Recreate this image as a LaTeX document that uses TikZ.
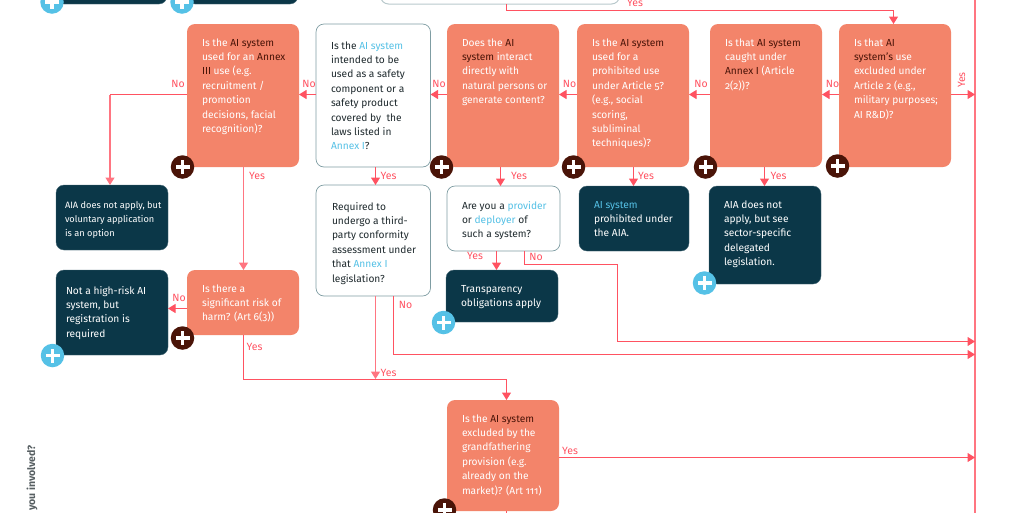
\documentclass[tikz,border=0pt]{standalone}
\usepackage{fontspec}
\setmainfont[Numbers=OldStyle]{Fira Sans}
\usetikzlibrary{arrows.meta,calc}
\definecolor{qor}{HTML}{F3846A}
\definecolor{qdk}{HTML}{0B3748}
\definecolor{qbr}{HTML}{4A1408}
\definecolor{qbl}{HTML}{55C1E6}
\definecolor{qrd}{HTML}{FF5261}
\definecolor{qgr}{HTML}{7F9DA3}
\definecolor{qtx}{HTML}{1F2A2E}
\tikzset{
 x=1pt,y=-1pt,
 base/.style={rectangle,rounded corners=8pt,inner sep=0pt,outer sep=0pt,anchor=north west,align=left},
 orangebox/.style={base,fill=qor,text=white},
 darkbox/.style={base,fill=qdk,draw=qdk!75!white,line width=.4pt,text=white},
 whitebox/.style={base,fill=white,draw=qgr,line width=.7pt,text=qtx},
 conn/.style={draw=qrd,line width=1pt},
 arr/.style={conn,-{Triangle[length=7.5pt,width=9pt]}},
 fade/.style={conn,line width=1.4pt,draw=qrd!80!white},
 yn/.style={text=qrd,font=\fontsize{10.5}{12}\selectfont,inner sep=0pt},
 plusd/.style={circle,fill=qbr,minimum size=23.5pt,inner sep=0pt},
 plusb/.style={circle,fill=qbl,minimum size=23.5pt,inner sep=0pt},
}
\newcommand{\qbox}[9]{% style,name,x,y,w,h,padx,offy,text
 \node[#1] (#2) at (#3,#4) {\hspace*{#7pt}\parbox[c][#6pt][t]{\dimexpr #5pt-#7pt\relax}{\fontsize{10.2}{14.4}\selectfont\raggedright\leavevmode\rule{0pt}{#8pt}#9}};}
\newcommand{\qplus}[3]{% style,name,at
 \node[#1] (#2) at #3 {};
 \fill[white] ($(#2)+(-7,-1.9)$) rectangle ($(#2)+(7,1.9)$);
 \fill[white] ($(#2)+(-1.9,-7)$) rectangle ($(#2)+(1.9,7)$);}
\newcommand{\dk}[1]{\textcolor{qbr}{#1}}
\newcommand{\bl}[1]{\textcolor{qbl}{#1}}
\begin{document}
\begin{tikzpicture}
\useasboundingbox (0,0) rectangle (1024,512);
\clip (0,0) rectangle (1024,512);
% top boxes, cut by the frame
\qbox{darkbox}{tl}{56}{-40}{111}{44}{10}{20}{}
\qbox{darkbox}{tm}{187}{-40}{111}{44}{10}{20}{}
\qbox{whitebox,draw=qgr!55!white,line width=1pt}{tw}{380.5}{-40}{239}{44}{10}{20}{}
% first row
\qbox{orangebox}{a}{187}{24}{112}{143}{15}{22}{Is the \dk{AI system}\\used for an \dk{Annex}\\\dk{III} use (e.g.\\recruitment /\\promotion\\decisions, facial\\recognition)?}
\qbox{whitebox}{b}{316}{24}{114.5}{143}{15}{25}{Is the \bl{AI system}\\intended to be\\used as a safety\\component or a\\safety product\\covered by~ the\\laws listed in\\\bl{Annex I}?}
\qbox{orangebox}{c}{447}{24}{112}{143}{15}{22}{Does the \dk{AI}\\\dk{system} interact\\directly with\\natural persons or\\generate content?}
\qbox{orangebox}{d}{577}{24}{112}{143}{15}{22}{Is the \dk{AI system}\\used for a\\prohibited use\\under Article 5?\\(e.g., social\\scoring,\\subliminal\\techniques)?}
\qbox{orangebox}{e}{710}{24}{112}{143}{15}{22}{Is that \dk{AI system}\\caught under\\\dk{Annex I} (Article\\2(2))?}
\qbox{orangebox}{f}{839}{24}{112}{143}{15}{22}{Is that \dk{AI}\\\dk{system’s} use\\excluded under\\Article 2 (e.g.,\\military purposes;\\AI R\&D)?}
% second row
\qbox{darkbox}{g}{56}{185}{112}{65}{9}{23}{{\fontsize{9.2}{14.4}\selectfont AIA does not apply, but\\voluntary application\\is an option}}
\qbox{whitebox}{h}{316}{185}{114.5}{111}{16}{25}{Required to\\undergo a third-\\party conformity\\assessment under\\that \bl{Annex I}\\legislation?}
\qbox{whitebox}{i}{447}{186}{113}{65}{15}{23}{Are you a \bl{provider}\\or \bl{deployer} of\\such a system?}
\qbox{darkbox}{j}{579}{186}{110}{65}{15}{22}{\bl{AI system}\\prohibited under\\the AIA.}
\qbox{darkbox}{k}{709}{186}{112}{98}{15}{22}{AIA does not\\apply, but see\\sector-specific\\delegated\\legislation.}
% lower rows
\qbox{orangebox}{l}{187}{270}{112}{65}{15}{22}{Is there a\\significant risk of\\harm? (Art 6(3))}
\qbox{darkbox}{m}{56}{270}{112}{85}{10}{24}{Not a high-risk AI\\system, but\\registration is\\required}
\qbox{darkbox}{n}{446}{270}{112}{52}{15}{22}{Transparency\\obligations apply}
\qbox{orangebox}{o}{447}{400}{112}{111}{15}{22}{Is the \dk{AI system}\\excluded by the\\grandfathering\\provision (e.g.\\already on the\\market)? (Art 111)}
% spine
\coordinate (s1) at (975,-5);
\coordinate (s2) at (975,517);
\draw[fade] (s1) -- (s2);
\draw[arr] (tw.south -| 506.5,0) -- (506.5,10.5) -- (893.5,10.5) -- (f.north -| 893.5,0);
% horizontal No chain
\draw[arr] (f.west |- 0,94.5) -- (e.east |- 0,94.5);
\draw[arr] (e.west |- 0,94.5) -- (d.east |- 0,94.5);
\draw[arr] (d.west |- 0,94.5) -- (c.east |- 0,94.5);
\draw[arr] (c.west |- 0,94.5) -- (b.east |- 0,94.5);
\draw[arr] (b.west |- 0,94.5) -- (a.east |- 0,94.5);
\draw[arr] (f.east |- 0,94.5) -- (975,94.5);
\draw[conn] (a.west |- 0,94.5) -- (110,94.5);
\draw[fade,-{Triangle[length=7.5pt,width=9pt]}] (110,94.5) -- (g.north -| 110,0);
% downward Yes
\draw[fade,-{Triangle[length=7.5pt,width=9pt]}] (a.south -| 243.5,0) -- (l.north -| 243.5,0);
\draw[arr] (b.south -| 375.5,0) -- (h.north -| 375.5,0);
\draw[arr] (c.south -| 500.5,0) -- (i.north -| 500.5,0);
\draw[arr] (d.south -| 633.5,0) -- (j.north -| 633.5,0);
\draw[arr] (e.south -| 764.5,0) -- (k.north -| 764.5,0);
\draw[arr] (i.south -| 496.5,0) -- (n.north -| 496.5,0);
\draw[conn] (i.south -| 524.5,0) -- (524.5,264.5) -- (617.5,264.5) -- (617.5,341.5);
\draw[arr] (617.5,341.5) -- (975,341.5);
\draw[conn] (h.south -| 393.5,0) -- (393.5,354.5);
\draw[arr] (393.5,354.5) -- (975,354.5);
\draw[fade,-{Triangle[length=7.5pt,width=9pt]}] (h.south -| 375.5,0) -- (375.5,379);
\draw[conn] (l.south -| 243.5,0) -- (243.5,379.5);
\draw[arr] (243.5,379.5) -- (506.5,379.5) -- (o.north -| 506.5,0);
\draw[arr] (l.west |- 0,308.5) -- (m.east |- 0,308.5);
\draw[arr] (o.east |- 0,457.5) -- (975,457.5);
\draw[conn] (o.south -| 506.5,0) -- (506.5,514);
% connector labels
\node[yn] at (178,84) {No};
\node[yn] at (309,84) {No};
\node[yn] at (439,84) {No};
\node[yn] at (569.5,84) {No};
\node[yn] at (701,84) {No};
\node[yn] at (832.5,84) {No};
\node[yn,rotate=90] at (961.5,80) {Yes};
\node[yn] at (635,3) {Yes};
\node[yn] at (257,175.5) {Yes};
\node[yn] at (388.5,175.5) {Yes};
\node[yn] at (519,175.5) {Yes};
\node[yn] at (646,175.5) {Yes};
\node[yn] at (778.5,175.5) {Yes};
\node[yn] at (475,256) {Yes};
\node[yn] at (536,256.5) {No};
\node[yn] at (405.5,304.5) {No};
\node[yn] at (179,297.5) {No};
\node[yn] at (254.5,346.5) {Yes};
\node[yn] at (388.5,372.5) {Yes};
\node[yn] at (570,450.5) {Yes};
% plus badges
\qplus{plusb}{p1}{(52,2)}
\qplus{plusb}{p2}{(182,2)}
\qplus{plusd}{p3}{(182.5,167)}
\qplus{plusd}{p4}{(441.5,167)}
\qplus{plusd}{p5}{(573.5,167)}
\qplus{plusd}{p6}{(705.5,167)}
\qplus{plusd}{p7}{(837.5,166)}
\qplus{plusd}{p8}{(182.5,338)}
\qplus{plusd}{p9}{(444.5,510)}
\qplus{plusb}{p10}{(704.5,283)}
\qplus{plusb}{p11}{(443.5,322.5)}
\qplus{plusb}{p12}{(52.5,355.5)}
% rotated caption
\node[rotate=90,anchor=west,text=qtx!75!white,inner sep=0pt,font=\fontsize{10.5}{12}\selectfont\bfseries] (cap) at (32,511) {you involved?};
\end{tikzpicture}
\end{document}
